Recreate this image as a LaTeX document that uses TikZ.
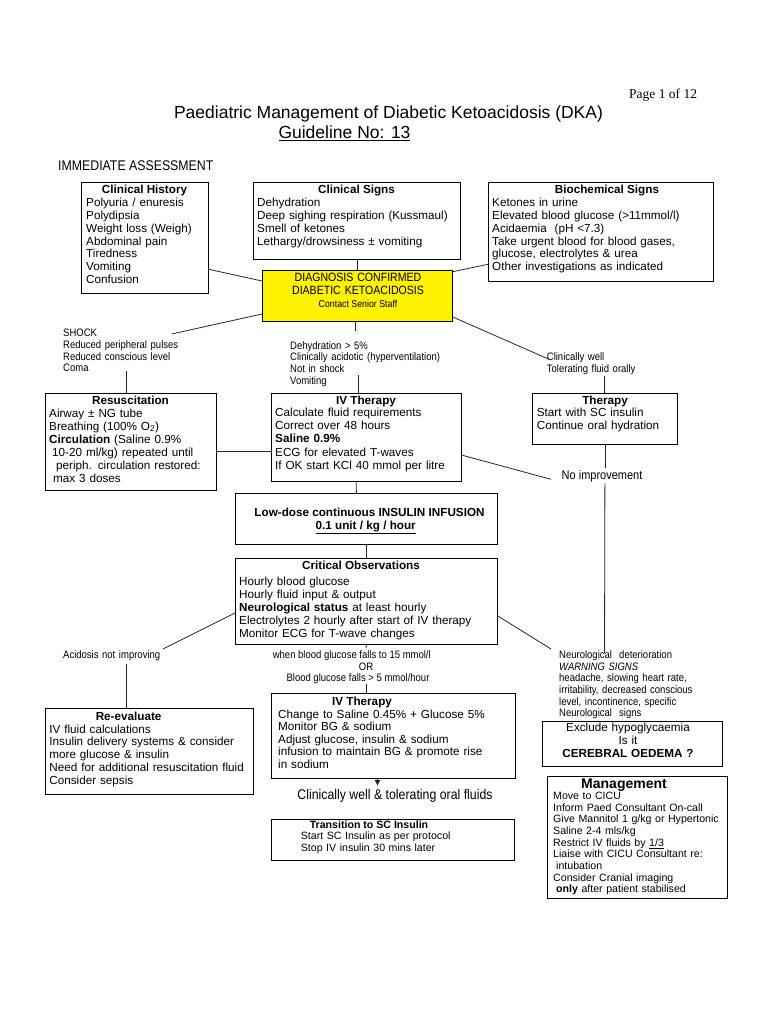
\documentclass[tikz,border=0pt]{standalone}
\usepackage{fontspec}
\setmainfont{Liberation Sans}
\newfontfamily\nar[FakeStretch=0.88]{Liberation Sans}
\newfontfamily\serifpage{Liberation Serif}
\usetikzlibrary{calc,arrows.meta}
\tikzset{
 box/.style={draw=black, line width=0.8pt, inner sep=0pt, anchor=north west},
 body/.style={anchor=base west, inner sep=0pt, text width=300, align=left, font=\fontsize{11.7}{12.8}\selectfont},
 ttl/.style={anchor=base, inner sep=0pt, font=\bfseries\fontsize{11.7}{12.8}\selectfont},
 lbl/.style={anchor=base west, inner sep=0pt, text width=250, align=left, font=\nar\fontsize{10.8}{11.7}\selectfont},
 lblc/.style={anchor=base, inner sep=0pt, font=\nar\fontsize{10.8}{11.7}\selectfont},
 con/.style={draw=black!85, line width=0.8pt},
}
\begin{document}
\begin{tikzpicture}[x=1pt,y=-1pt]
\useasboundingbox (0,0) rectangle (768,1024);
\fill[white] (0,0) rectangle (768,1024);

% header
\node[anchor=base west, inner sep=0pt, font=\serifpage\fontsize{13.5}{15}\selectfont] (page) at (629,98.5) {Page 1 of 12};
\node[anchor=base, inner sep=0pt, font=\fontsize{17.5}{20}\selectfont] (title) at (388.5,118.5) {Paediatric Management of Diabetic Ketoacidosis (DKA)};
\node[anchor=base, inner sep=0pt, font=\fontsize{17.5}{20}\selectfont] (guide) at (344.5,138.5) {\underline{Guideline No: 13}};
\node[anchor=base west, inner sep=0pt, font=\nar\fontsize{14}{16}\selectfont] (imm) at (58,171) {IMMEDIATE ASSESSMENT};

% boxes
\node[box, minimum width=127, minimum height=111] (ch) at (81,182) {};
\node[box, minimum width=207, minimum height=77] (cs) at (253,182) {};
\node[box, minimum width=225, minimum height=99] (bs) at (488,182) {};
\node[box, fill=yellow, minimum width=190, minimum height=51] (dx) at (262,270) {};
\node[box, minimum width=171, minimum height=97] (rs) at (45,393) {};
\node[box, minimum width=189.5, minimum height=88] (iv1) at (271,393) {};
\node[box, minimum width=145, minimum height=51] (th) at (532,393) {};
\node[box, minimum width=262, minimum height=51] (ld) at (235,493) {};
\node[box, minimum width=262, minimum height=86] (co) at (235,558) {};
\node[box, minimum width=208, minimum height=86] (rv) at (45,708) {};
\node[box, minimum width=244, minimum height=85] (iv2) at (271,693) {};
\node[box, minimum width=180, minimum height=45] (ex) at (542,721) {};
\node[box, minimum width=180, minimum height=122] (mg) at (547,776) {};
\node[box, minimum width=243, minimum height=41] (tr) at (271,819) {};

% box texts
\node[ttl] (cht) at (144.5,193.5) {Clinical History};
\node[body] (chb) at (86,206.7) {Polyuria / enuresis\\Polydipsia\\Weight loss (Weigh)\\Abdominal pain\\Tiredness\\Vomiting\\Confusion};

\node[ttl] (cst) at (356.5,193.5) {Clinical Signs};
\node[body] (csb) at (257,206.7) {Dehydration\\Deep sighing respiration (Kussmaul)\\Smell of ketones\\Lethargy/drowsiness ± vomiting};

\node[ttl] (bst) at (607,193.5) {Biochemical Signs};
\node[body] (bsb) at (492,206.7) {Ketones in urine\\Elevated blood glucose (>11mmol/l)\\Acidaemia~ (pH <7.3)\\Take urgent blood for blood gases,\\glucose, electrolytes \& urea\\Other investigations as indicated};

\node[anchor=base, inner sep=0pt, text width=185, align=center, font=\nar\fontsize{12}{12.4}\selectfont] (dxt) at (358,281.7) {DIAGNOSIS CONFIRMED\\DIABETIC KETOACIDOSIS};
\node[anchor=base, inner sep=0pt, font=\nar\fontsize{10}{12}\selectfont] (dxc) at (358,307) {Contact Senior Staff};

\node[lbl] (shock) at (63,336.8) {SHOCK\\Reduced peripheral pulses\\Reduced conscious level\\Coma};
\node[lbl] (dh) at (290,349.2) {Dehydration > 5\%\\Clinically acidotic (hyperventilation)\\Not in shock\\Vomiting};
\node[lbl] (cwl) at (546.7,360.8) {Clinically well\\Tolerating fluid orally};

\node[ttl] (rst) at (130.5,404) {Resuscitation};
\node[body, font=\fontsize{11.7}{13.1}\selectfont] (rsb) at (49,417) {Airway ± NG tube\\Breathing (100\% O\textsubscript{2})\\\textbf{Circulation} (Saline 0.9\%\\\hspace*{3pt}10-20 ml/kg) repeated until\\\hspace*{7pt}periph. circulation restored:\\\hspace*{4pt}max 3 doses};

\node[ttl] (iv1t) at (366,404) {IV Therapy};
\node[body, font=\fontsize{11.7}{13.1}\selectfont] (iv1b) at (275,416.7) {Calculate fluid requirements\\Correct over 48 hours\\\textbf{Saline 0.9\%}\\ECG for elevated T-waves\\If OK start KCl 40 mmol per litre};

\node[ttl] (tht) at (605,404) {Therapy};
\node[body] (thb) at (536.7,416.7) {Start with SC insulin\\Continue oral hydration};

\node[anchor=base west, inner sep=1.5pt, font=\nar\fontsize{12.5}{14}\selectfont] (ni) at (560,479) {No improvement};

\node[anchor=base, inner sep=0pt, font=\bfseries\fontsize{11.7}{13}\selectfont] (ldt) at (369.5,516.7) {Low-dose continuous INSULIN INFUSION};
\node[anchor=base, inner sep=0pt, font=\bfseries\fontsize{11.7}{13}\selectfont] (ldu) at (365.7,529.7) {\underline{0.1 unit / kg / hour}};

\node[ttl] (cot) at (361,569) {Critical Observations};
\node[body, font=\fontsize{11.7}{12.9}\selectfont] (cob) at (239,585.7) {Hourly blood glucose\\Hourly fluid input \& output\\\textbf{Neurological status} at least hourly\\Electrolytes 2 hourly after start of IV therapy\\Monitor ECG for T-wave changes};

\node[lbl] (an) at (63,658.5) {Acidosis not improving};
\node[lblc] (wb1) at (351.8,658.5) {when blood glucose falls to 15 mmol/l};
\node[lblc] (wb2) at (366,670.5) {OR};
\node[lblc] (wb3) at (358,681.5) {Blood glucose falls > 5 mmol/hour};

\node[lbl, font=\nar\fontsize{10.8}{11.65}\selectfont] (nd) at (559,658.5) {Neurological~ deterioration\\\textit{WARNING SIGNS}\\headache, slowing heart rate,\\irritability, decreased conscious\\level, incontinence, specific\\Neurological~ signs};

\node[ttl] (rvt) at (128.6,720) {Re-evaluate};
\node[body, font=\fontsize{11.7}{12.75}\selectfont] (rvb) at (49.2,733) {IV fluid calculations\\Insulin delivery systems \& consider\\more glucose \& insulin\\Need for additional resuscitation fluid\\Consider sepsis};

\node[ttl] (iv2t) at (362,705) {IV Therapy};
\node[body, font=\fontsize{11.7}{12.5}\selectfont] (iv2b) at (278,718) {Change to Saline 0.45\% + Glucose 5\%\\Monitor BG \& sodium\\Adjust glucose, insulin \& sodium\\infusion to maintain BG \& promote rise\\in sodium};

\node[anchor=base, inner sep=0pt, text width=175, align=center, font=\fontsize{11.7}{13}\selectfont] (ext) at (628,731) {Exclude hypoglycaemia\\Is it\\\textbf{CEREBRAL OEDEMA ?}};

\node[anchor=base, inner sep=0pt, font=\nar\fontsize{14}{16}\selectfont] (cw) at (395,799.5) {Clinically well \& tolerating oral fluids};

\node[anchor=base, inner sep=0pt, font=\bfseries\fontsize{10.6}{12}\selectfont] (trt) at (369,828) {Transition to SC Insulin};
\node[body, font=\fontsize{10.6}{12}\selectfont] (trb) at (300.7,839.6) {Start SC Insulin as per protocol\\Stop IV insulin 30 mins later};

\node[anchor=base, inner sep=0pt, font=\bfseries\fontsize{14}{16}\selectfont] (mgt) at (624,788) {Management};
\node[body, font=\fontsize{10.6}{11.67}\selectfont] (mgb) at (553,799.6) {Move to CICU\\Inform Paed Consultant On-call\\Give Mannitol 1 g/kg or Hypertonic\\Saline 2-4 mls/kg\\Restrict IV fluids by \underline{1/3}\\Liaise with CICU Consultant re:\\\hspace*{3pt}intubation\\Consider Cranial imaging\\\hspace*{3pt}\textbf{only} after patient stabilised};

% connectors
\draw[con] ($(ch.north east)+(0,87.3)$) -- ($(dx.north west)+(0,11)$);
\draw[con] ($(dx.north east)+(0,1.7)$) -- ($(bs.north west)+(0,82.3)$);
\draw[con] (cs.south) -- (cs.south |- dx.north);
\coordinate (shockend) at (171.7,334);
\draw[con] ($(dx.north west)+(0,44)$) -- (shockend);
\coordinate (shockdown) at (126,371);
\draw[con] (shockdown) -- (shockdown |- rs.north);
\coordinate (dhtop) at (355.6,331);
\draw[con] (dx.south -| dhtop) -- (dhtop);
\coordinate (dhbot) at (358,375);
\draw[con] (dhbot) -- (dhbot |- iv1.north);
\coordinate (cwend) at (549,359.3);
\draw[con] ($(dx.north east)+(0,47)$) -- (cwend);
\coordinate (cwdown) at (604.5,376);
\draw[con] (cwdown) -- (cwdown |- th.north);
\draw[con] ($(rs.north east)+(0,58)$) -- ($(iv1.north west)+(0,58)$);
\coordinate (niend) at (551,479.3);
\draw[con] ($(iv1.north east)+(0,62)$) -- (niend);
\draw[con] (th.south) -- (th.south |- ni.north);
\coordinate (ndtop) at (604.5,653);
\draw[con] (th.south |- ni.south) -- (ndtop);
\draw[con] ($(iv1.south)+(-10,0)$) -- ($(ld.north)+(-10,0)$);
\draw[con] (ld.south) -- (co.north);
\coordinate (anend) at (163,649);
\draw[con] ($(co.north west)+(0,55)$) -- (anend);
\coordinate (andown) at (126.3,664);
\draw[con] (andown) -- (andown |- rv.north);
\coordinate (wbtop) at (366,648);
\draw[con] (co.south) -- (wbtop);
\coordinate (wbbot) at (366,683.5);
\draw[con] (wbbot) -- (wbbot |- iv2.north);
\coordinate (ndend) at (551,649);
\draw[con] ($(co.north east)+(0,58)$) -- (ndend);
\coordinate (cwtip) at (377.5,786);
\draw[con, -{Latex[length=6pt,width=6pt]}] (cwtip |- iv2.south) -- (cwtip);
\end{tikzpicture}
\end{document}
